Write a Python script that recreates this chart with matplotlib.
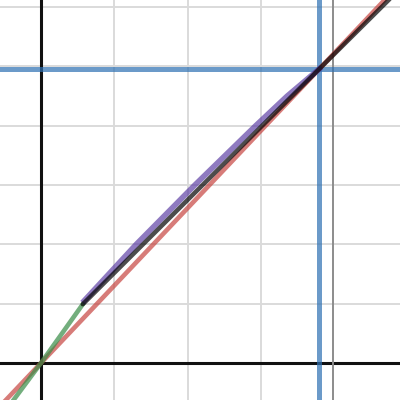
import numpy as np
import matplotlib
matplotlib.use("Agg")
import matplotlib.pyplot as plt

# view window (graph units)
x_range = [-0.56, 4.9]
y_range = [-0.625, 6.12]
grid_x = [1, 2, 3]
grid_y = [1, 2, 3, 4, 5, 6]

# expressions
red_x = [-0.6, 0.0, 4.8]
red_y = [-0.783, 0.0, 6.264]

green_x = [-0.6, 0.0, 0.57]
green_y = [-1.0, 0.0, 0.99]

purple_x = [0.59, 1.30, 2.10, 2.93, 3.36, 3.80]
purple_y = [1.05, 2.0, 3.0, 4.0, 4.5, 4.96]

black_x = [0.57, 3.80, 4.90]
black_y = [0.99, 4.96, 6.31]

blue_x = 3.80
blue_y = 4.96
gray_x = 3.98

fig = plt.figure(figsize=(4, 4), dpi=100)
ax = fig.add_axes([0, 0, 1, 1])
ax.set_xlim(x_range)
ax.set_ylim(y_range)
ax.axis('off')

for gx in grid_x:
    ax.axvline(gx, color='#dadada', lw=1.4, zorder=0)
for gy in grid_y:
    ax.axhline(gy, color='#dadada', lw=1.4, zorder=0)
ax.axvline(0, color='#111111', lw=2.2, zorder=1)
ax.axhline(0, color='#111111', lw=2.2, zorder=1)

ax.axvline(gray_x, color='#8c8c8c', lw=1.4, zorder=2)
ax.axvline(blue_x, color='#2d70b3', lw=3.6, alpha=0.7, zorder=2)
ax.axhline(blue_y, color='#2d70b3', lw=3.6, alpha=0.7, zorder=2)

ax.plot(red_x, red_y, color='#c74440', lw=3.3, alpha=0.7, zorder=3)
ax.plot(green_x, green_y, color='#388c46', lw=3.3, alpha=0.7, zorder=4)
ax.plot(purple_x, purple_y, color='#6042a6', lw=4.0, alpha=0.7, zorder=5)
ax.plot(black_x, black_y, color='#000000', lw=3.2, alpha=0.7, zorder=6,
        solid_capstyle='round')

plt.savefig("out.png", dpi=100)
